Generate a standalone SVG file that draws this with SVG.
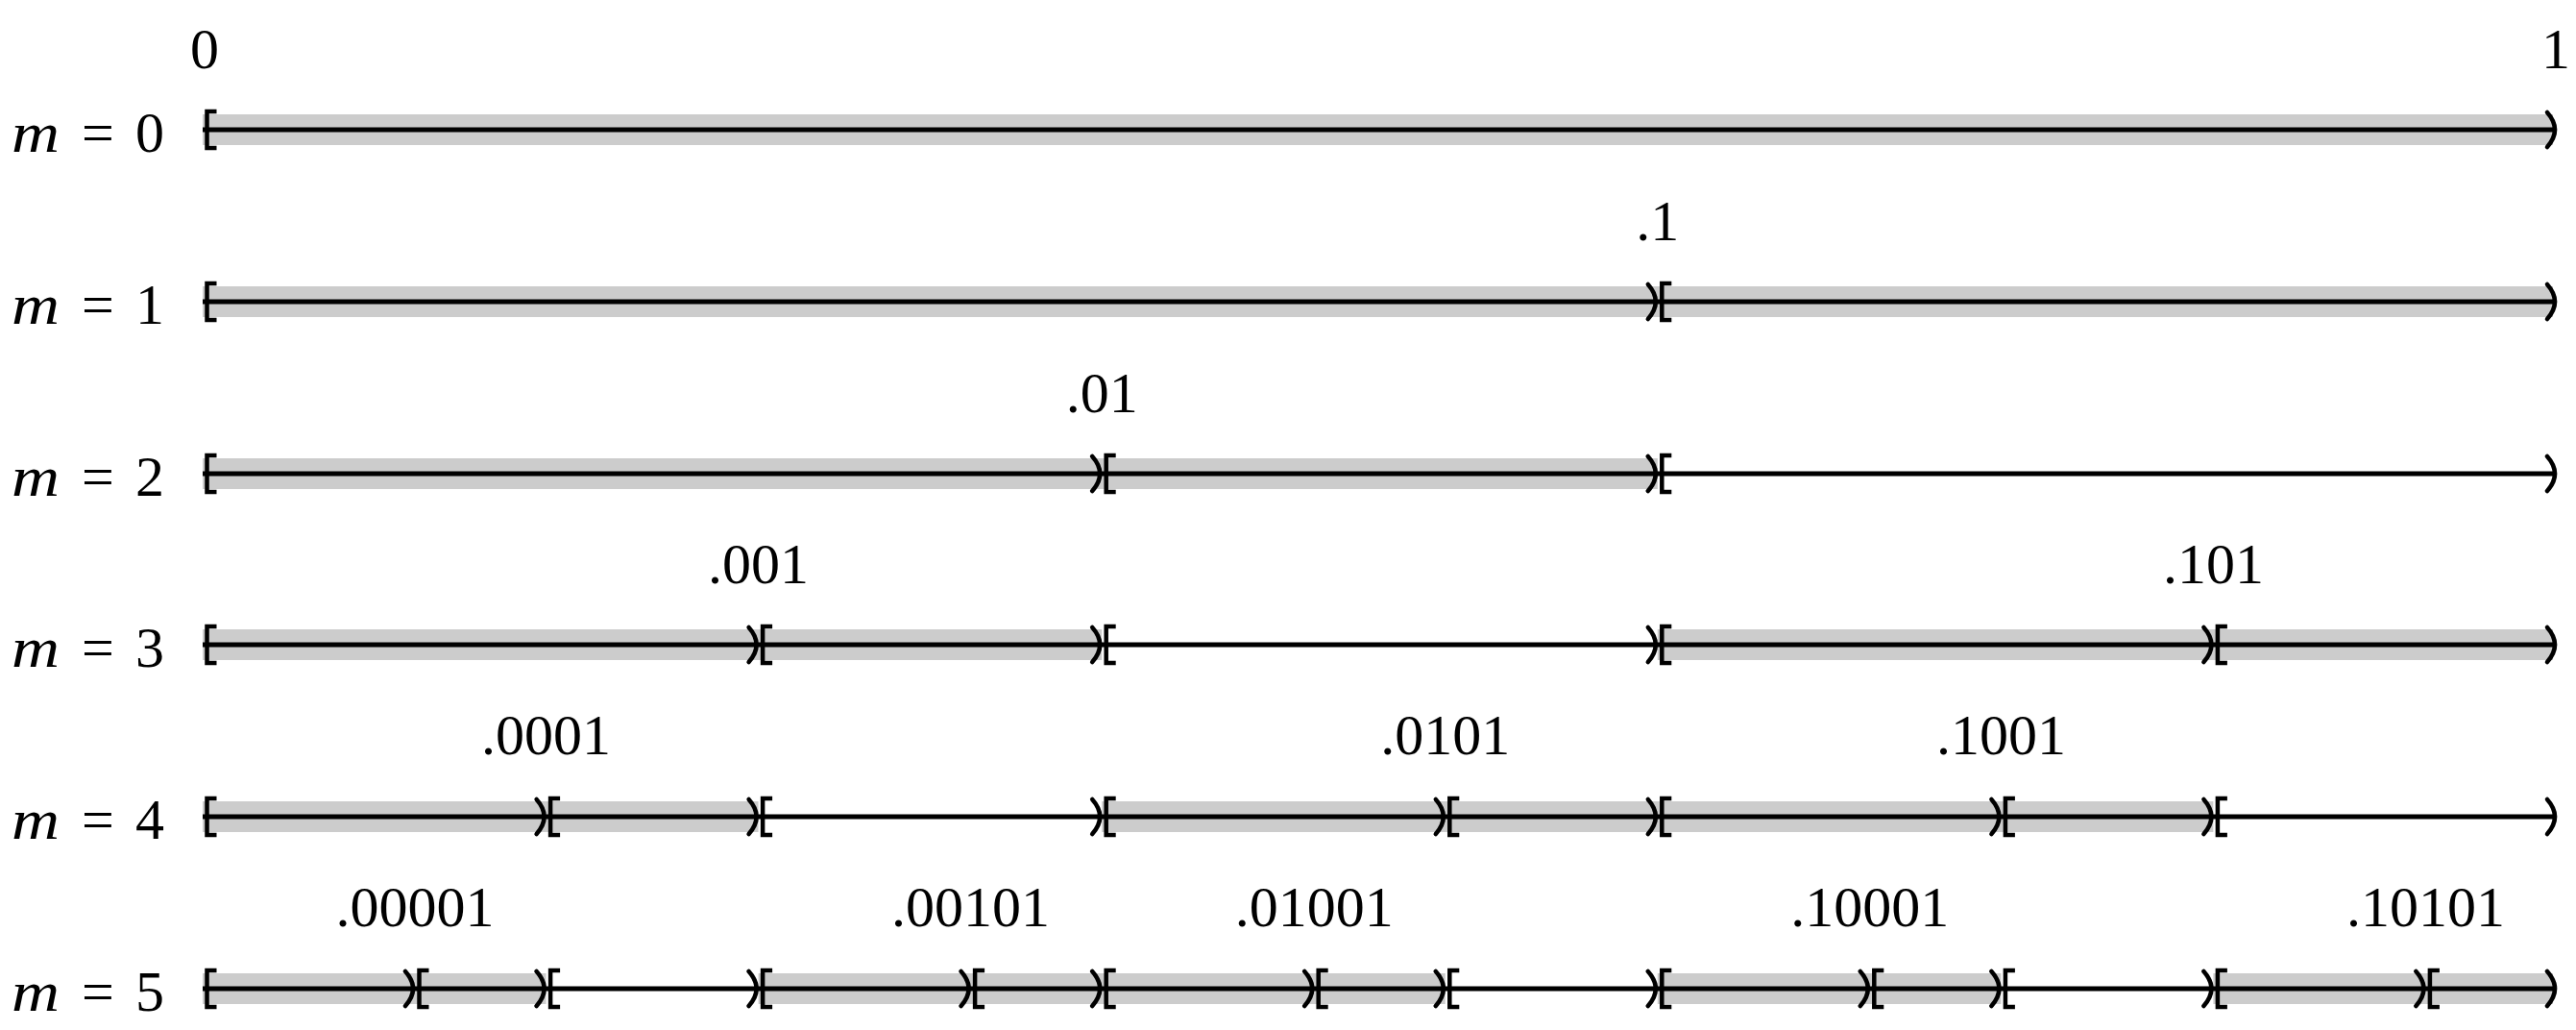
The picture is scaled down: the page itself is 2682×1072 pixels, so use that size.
<svg xmlns="http://www.w3.org/2000/svg" xmlns:xlink="http://www.w3.org/1999/xlink" width="2682" height="1072" viewBox="0 0 2682 1072">
<style>
  .lbl { font-family: "Liberation Serif", "DejaVu Serif", serif; font-size: 60px; fill: #000; text-anchor: middle; }
  .row { font-family: "Liberation Serif", "DejaVu Serif", serif; font-size: 60px; fill: #000; }
  .mi { font-style: italic; }
  .band { fill: #cccccc; }
  .axis { stroke: #000; stroke-width: 5; fill: none; }
  .br { stroke: #000; stroke-width: 4.5; fill: none; }
</style>
<defs>
  <path id="open" class="br" d="M14.5,-19 H4.5 V19 H14.5"/>
  <path id="close" class="br" stroke-linecap="round" d="M-10,-18 Q6,0 -10,18"/>
</defs>
<rect width="2682" height="1072" fill="#fff"/>

<g id="row0">
  <rect class="band" x="211" y="119" width="2447" height="32"/>
  <line class="axis" x1="211" y1="135" x2="2660" y2="135"/>
  <use href="#open" x="211" y="135"/>
  <use href="#close" x="2662" y="135"/>
  <text class="row" y="158"><tspan x="12" class="mi" textLength="50" lengthAdjust="spacingAndGlyphs">m</tspan> <tspan x="85">=</tspan> <tspan x="141">0</tspan></text>
  <text class="lbl" x="213" y="71">0</text>
  <text class="lbl" x="2661" y="71">1</text>
</g>

<g id="row1">
  <rect class="band" x="211" y="298" width="2447" height="32"/>
  <line class="axis" x1="211" y1="314" x2="2660" y2="314"/>
  <use href="#open" x="211" y="314"/>
  <use href="#close" x="1725.8" y="314"/>
  <use href="#open" x="1725.8" y="314"/>
  <use href="#close" x="2662" y="314"/>
  <text class="row" y="337"><tspan x="12" class="mi" textLength="50" lengthAdjust="spacingAndGlyphs">m</tspan> <tspan x="85">=</tspan> <tspan x="141">1</tspan></text>
  <text class="lbl" x="1725.8" y="250">.1</text>
</g>

<g id="row2">
  <rect class="band" x="211" y="477" width="1514.8" height="32"/>
  <line class="axis" x1="211" y1="493" x2="2660" y2="493"/>
  <use href="#open" x="211" y="493"/>
  <use href="#close" x="1147.2" y="493"/>
  <use href="#open" x="1147.2" y="493"/>
  <use href="#close" x="1725.8" y="493"/>
  <use href="#open" x="1725.8" y="493"/>
  <use href="#close" x="2662" y="493"/>
  <text class="row" y="516"><tspan x="12" class="mi" textLength="50" lengthAdjust="spacingAndGlyphs">m</tspan> <tspan x="85">=</tspan> <tspan x="141">2</tspan></text>
  <text class="lbl" x="1147.2" y="429">.01</text>
</g>

<g id="row3">
  <rect class="band" x="211" y="655" width="936.2" height="32"/>
  <rect class="band" x="1725.8" y="655" width="932.2" height="32"/>
  <line class="axis" x1="211" y1="671" x2="2660" y2="671"/>
  <use href="#open" x="211" y="671"/>
  <use href="#close" x="789.6" y="671"/>
  <use href="#open" x="789.6" y="671"/>
  <use href="#close" x="1147.2" y="671"/>
  <use href="#open" x="1147.2" y="671"/>
  <use href="#close" x="1725.8" y="671"/>
  <use href="#open" x="1725.8" y="671"/>
  <use href="#close" x="2304.4" y="671"/>
  <use href="#open" x="2304.4" y="671"/>
  <use href="#close" x="2662" y="671"/>
  <text class="row" y="694"><tspan x="12" class="mi" textLength="50" lengthAdjust="spacingAndGlyphs">m</tspan> <tspan x="85">=</tspan> <tspan x="141">3</tspan></text>
  <text class="lbl" x="789.6" y="607">.001</text>
  <text class="lbl" x="2304.4" y="607">.101</text>
</g>

<g id="row4">
  <rect class="band" x="211" y="834" width="578.6" height="32"/>
  <rect class="band" x="1147.2" y="834" width="1157.2" height="32"/>
  <line class="axis" x1="211" y1="850" x2="2660" y2="850"/>
  <use href="#open" x="211" y="850"/>
  <use href="#close" x="568.6" y="850"/>
  <use href="#open" x="568.6" y="850"/>
  <use href="#close" x="789.6" y="850"/>
  <use href="#open" x="789.6" y="850"/>
  <use href="#close" x="1147.2" y="850"/>
  <use href="#open" x="1147.2" y="850"/>
  <use href="#close" x="1504.8" y="850"/>
  <use href="#open" x="1504.8" y="850"/>
  <use href="#close" x="1725.8" y="850"/>
  <use href="#open" x="1725.8" y="850"/>
  <use href="#close" x="2083.4" y="850"/>
  <use href="#open" x="2083.4" y="850"/>
  <use href="#close" x="2304.4" y="850"/>
  <use href="#open" x="2304.4" y="850"/>
  <use href="#close" x="2662" y="850"/>
  <text class="row" y="873"><tspan x="12" class="mi" textLength="50" lengthAdjust="spacingAndGlyphs">m</tspan> <tspan x="85">=</tspan> <tspan x="141">4</tspan></text>
  <text class="lbl" x="568.6" y="785">.0001</text>
  <text class="lbl" x="1504.8" y="785">.0101</text>
  <text class="lbl" x="2083.4" y="785">.1001</text>
</g>

<g id="row5">
  <rect class="band" x="211" y="1013" width="357.6" height="32"/>
  <rect class="band" x="789.6" y="1013" width="715.2" height="32"/>
  <rect class="band" x="1725.8" y="1013" width="357.6" height="32"/>
  <rect class="band" x="2304.4" y="1013" width="353.6" height="32"/>
  <line class="axis" x1="211" y1="1029" x2="2660" y2="1029"/>
  <use href="#open" x="211" y="1029"/>
  <use href="#close" x="432" y="1029"/>
  <use href="#open" x="432" y="1029"/>
  <use href="#close" x="568.6" y="1029"/>
  <use href="#open" x="568.6" y="1029"/>
  <use href="#close" x="789.6" y="1029"/>
  <use href="#open" x="789.6" y="1029"/>
  <use href="#close" x="1010.6" y="1029"/>
  <use href="#open" x="1010.6" y="1029"/>
  <use href="#close" x="1147.2" y="1029"/>
  <use href="#open" x="1147.2" y="1029"/>
  <use href="#close" x="1368.2" y="1029"/>
  <use href="#open" x="1368.2" y="1029"/>
  <use href="#close" x="1504.8" y="1029"/>
  <use href="#open" x="1504.8" y="1029"/>
  <use href="#close" x="1725.8" y="1029"/>
  <use href="#open" x="1725.8" y="1029"/>
  <use href="#close" x="1946.8" y="1029"/>
  <use href="#open" x="1946.8" y="1029"/>
  <use href="#close" x="2083.4" y="1029"/>
  <use href="#open" x="2083.4" y="1029"/>
  <use href="#close" x="2304.4" y="1029"/>
  <use href="#open" x="2304.4" y="1029"/>
  <use href="#close" x="2525.4" y="1029"/>
  <use href="#open" x="2525.4" y="1029"/>
  <use href="#close" x="2662" y="1029"/>
  <text class="row" y="1052"><tspan x="12" class="mi" textLength="50" lengthAdjust="spacingAndGlyphs">m</tspan> <tspan x="85">=</tspan> <tspan x="141">5</tspan></text>
  <text class="lbl" x="432" y="964">.00001</text>
  <text class="lbl" x="1010.6" y="964">.00101</text>
  <text class="lbl" x="1368.2" y="964">.01001</text>
  <text class="lbl" x="1946.8" y="964">.10001</text>
  <text class="lbl" x="2525.4" y="964">.10101</text>
</g>
</svg>
